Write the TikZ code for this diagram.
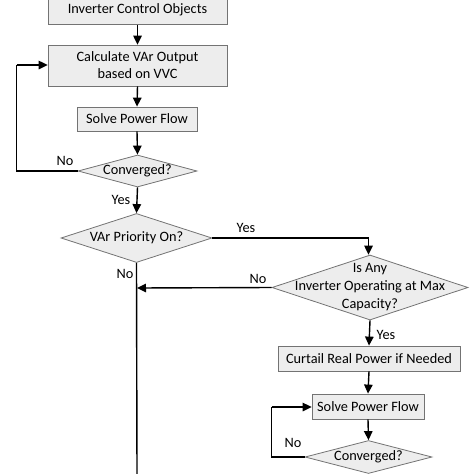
\documentclass[tikz,border=0pt]{standalone}
\usepackage{fontspec}
\setmainfont{Carlito}
\usetikzlibrary{arrows.meta,shapes.geometric}
\begin{document}
\begin{tikzpicture}[x=1pt,y=-1pt,
  every node/.style={font=\fontsize{14.3}{17}\selectfont},
  procbox/.style={draw=black!55,fill=black!7,line width=0.8pt,rectangle,inner sep=0pt,align=center},
  decis/.style={draw=black!55,fill=black!7,line width=0.8pt,diamond,inner sep=0pt,align=center},
  flow/.style={line width=1.4pt,-{Triangle[length=9pt,width=8.5pt]}},
  plain/.style={line width=1.4pt},
  lbl/.style={inner sep=0pt,font=\fontsize{14.3}{17}\selectfont}]
\useasboundingbox (0,0) rectangle (474,474);
% boxes
\node[procbox,minimum width=179pt,minimum height=40pt] (init) at (137.5,4.5) {};
\node at (137.5,10) {Inverter Control Objects};
\node[procbox,minimum width=179pt,minimum height=41pt] (calc) at (137.5,65.5) {Calculate VAr Output\\based on VVC};
\node[procbox,minimum width=120pt,minimum height=24pt] (spf1) at (137,119) {Solve Power Flow};
\node[decis,minimum width=119pt,minimum height=32pt,aspect=3.7] (conv1) at (137.5,171) {};
\node at (conv1) {Converged?};
\node[decis,minimum width=151pt,minimum height=49pt,aspect=3.1] (prio) at (136.5,238) {};
\node at (prio) {VAr Priority On?};
\node[decis,minimum width=196pt,minimum height=65pt,aspect=3.0] (maxc) at (370,287.5) {};
\node[align=center,font=\fontsize{14.3}{18}\selectfont] at (maxc) {Is Any\\Inverter Operating at Max\\Capacity?};
\node[procbox,minimum width=182pt,minimum height=25pt] (curt) at (369,358.5) {Curtail Real Power if Needed};
\node[procbox,minimum width=112pt,minimum height=25pt] (spf2) at (368,406.5) {Solve Power Flow};
\node[decis,minimum width=127pt,minimum height=33pt,aspect=3.85] (conv2) at (368.5,457) {};
\node at (conv2) {Converged?};
% connectors
\draw[flow] (init.south) -- (calc.north);
\draw[flow] (calc.south) -- (spf1.north);
\draw[flow] (spf1.south) -- (conv1.north);
\coordinate (l1a) at (16.5,171);
\coordinate (l1b) at (16.5,65);
\draw[plain] (conv1.west) -- (l1a) -- (l1b);
\draw[flow] (l1b) -- (calc.west |- l1b);
\node[lbl] at (65,161) {No};
\draw[flow] (conv1.south) -- (prio.north);
\node[lbl] at (121,200) {Yes};
\coordinate (py) at (368.5,238);
\draw[plain] (prio.east) -- (py);
\draw[flow] (py) -- (py |- maxc.north);
\node[lbl] at (246,228) {Yes};
\coordinate (down) at (137,476);
\draw[plain] (prio.south) -- (down);
\node[lbl] at (125,274) {No};
\coordinate (join) at (137,288);
\draw[flow] (maxc.west) -- (join);
\node[lbl] at (258,279) {No};
\draw[flow] (maxc.south) -- (curt.north);
\node[lbl] at (386,335) {Yes};
\draw[flow] (curt.south) -- (spf2.north);
\draw[flow] (spf2.south) -- (conv2.north);
\coordinate (l2a) at (271.5,457);
\coordinate (l2b) at (271.5,407);
\draw[plain] (conv2.west) -- (l2a) -- (l2b);
\draw[flow] (l2b) -- (spf2.west |- l2b);
\node[lbl] at (293,443) {No};
\end{tikzpicture}
\end{document}
